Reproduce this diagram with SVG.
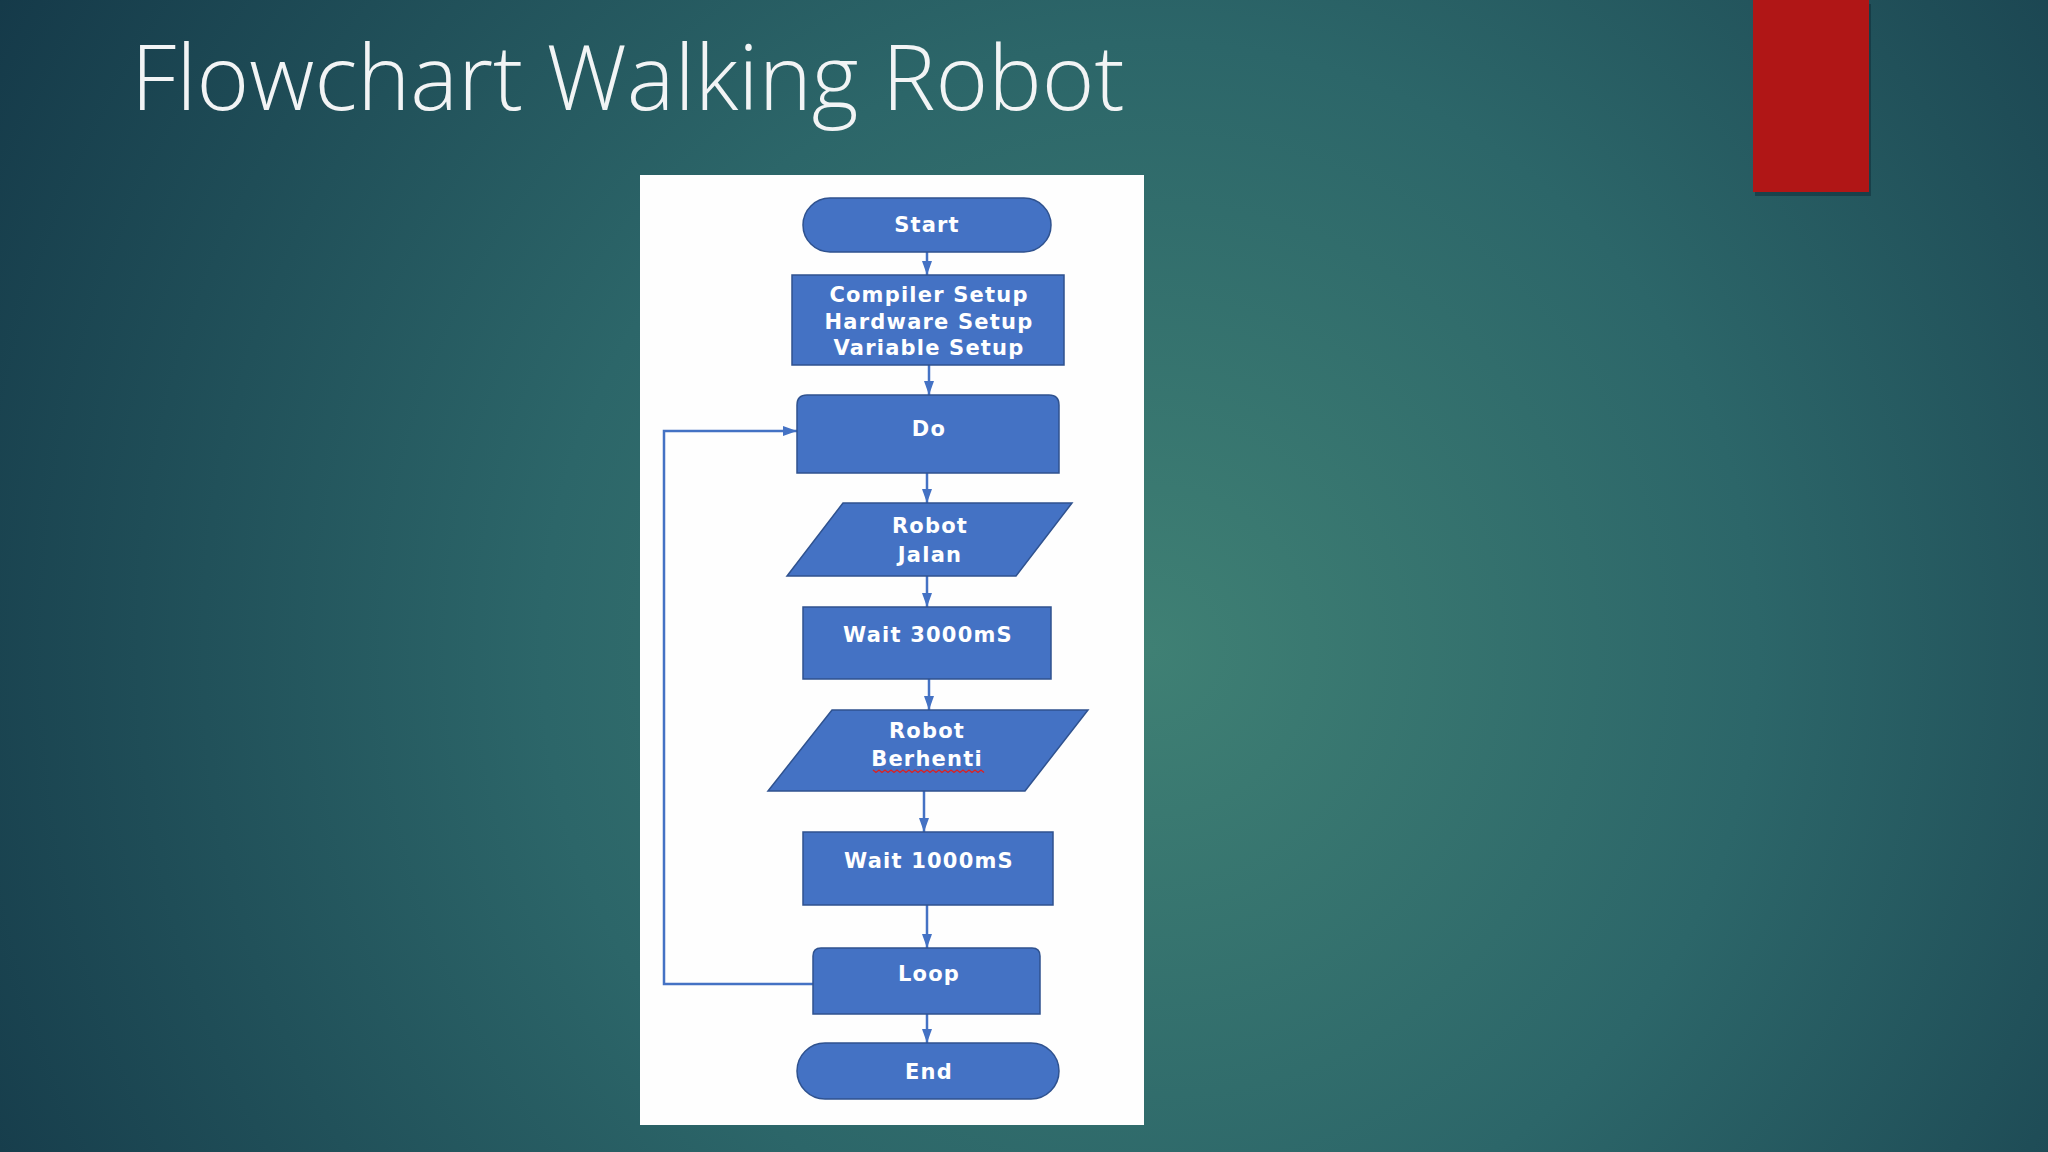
<svg xmlns="http://www.w3.org/2000/svg" width="2048" height="1152" viewBox="0 0 2048 1152">
  <defs>
    <radialGradient id="bg" cx="1150" cy="650" r="1350" gradientUnits="userSpaceOnUse">
      <stop offset="0" stop-color="#3f8074"/>
      <stop offset="0.45" stop-color="#2c6669"/>
      <stop offset="1" stop-color="#143848"/>
    </radialGradient>
    <marker id="arr" viewBox="0 0 14 10" refX="14" refY="5" markerWidth="14" markerHeight="12" markerUnits="userSpaceOnUse" orient="auto">
      <path d="M0,0 L14,5 L0,10 Z" fill="#4472C4"/>
    </marker>
    <style>
      .node { fill: #4472C4; stroke: #2F528F; stroke-width: 1.5; }
      .lbl { font-family: "DejaVu Sans", Verdana, sans-serif; font-weight: bold; font-size: 21px; letter-spacing: 1.2px; fill: #ffffff; text-anchor: middle; }
      .conn { stroke: #4472C4; stroke-width: 2.5; fill: none; }
    </style>
  </defs>

  <rect x="0" y="0" width="2048" height="1152" fill="url(#bg)"/>

  <g id="title">
    <text x="131" y="110" font-family="'Open Sans', 'Noto Sans', sans-serif" font-weight="300" font-size="90" fill="#f2f4f5">Flowchart Walking Robot</text>
  </g>

  <g id="accent">
    <rect x="1755" y="4" width="116" height="192" fill="#0d2a35" opacity="0.5"/>
    <rect x="1753" y="0" width="116" height="192" fill="#b01616"/>
  </g>

  <rect id="panel" x="640" y="175" width="504" height="950" fill="#fefefe"/>

  <g id="connectors">
    <line class="conn" x1="927" y1="252" x2="927" y2="275" marker-end="url(#arr)"/>
    <line class="conn" x1="929" y1="365" x2="929" y2="395" marker-end="url(#arr)"/>
    <line class="conn" x1="927" y1="473" x2="927" y2="503" marker-end="url(#arr)"/>
    <line class="conn" x1="927" y1="576" x2="927" y2="607" marker-end="url(#arr)"/>
    <line class="conn" x1="929" y1="679" x2="929" y2="710" marker-end="url(#arr)"/>
    <line class="conn" x1="924" y1="791" x2="924" y2="832" marker-end="url(#arr)"/>
    <line class="conn" x1="927" y1="905" x2="927" y2="948" marker-end="url(#arr)"/>
    <line class="conn" x1="927" y1="1014" x2="927" y2="1043" marker-end="url(#arr)"/>
    <polyline class="conn" points="813,984 664,984 664,431 797,431" marker-end="url(#arr)"/>
  </g>

  <g id="start">
    <rect class="node" x="803" y="198" width="248" height="54" rx="27" ry="27"/>
    <text class="lbl" x="927" y="232">Start</text>
  </g>

  <g id="setup">
    <rect class="node" x="792" y="275" width="272" height="90"/>
    <text class="lbl" x="929" y="302">Compiler Setup</text>
    <text class="lbl" x="929" y="329">Hardware Setup</text>
    <text class="lbl" x="929" y="355">Variable Setup</text>
  </g>

  <g id="do">
    <path class="node" d="M797,473 L797,405 Q797,395 807,395 L1049,395 Q1059,395 1059,405 L1059,473 Z"/>
    <text class="lbl" x="929" y="436">Do</text>
  </g>

  <g id="robot-jalan">
    <polygon class="node" points="843,503 1072,503 1016,576 787,576"/>
    <text class="lbl" x="930" y="533">Robot</text>
    <text class="lbl" x="930" y="562">Jalan</text>
  </g>

  <g id="wait3000">
    <rect class="node" x="803" y="607" width="248" height="72"/>
    <text class="lbl" x="928" y="642">Wait 3000mS</text>
  </g>

  <g id="robot-berhenti">
    <polygon class="node" points="832,710 1088,710 1025,791 768,791"/>
    <text class="lbl" x="927" y="738">Robot</text>
    <text class="lbl" x="927" y="766">Berhenti</text>
    <path d="M873,770 l3,2.5 l3,-2.5 l3,2.5 l3,-2.5 l3,2.5 l3,-2.5 l3,2.5 l3,-2.5 l3,2.5 l3,-2.5 l3,2.5 l3,-2.5 l3,2.5 l3,-2.5 l3,2.5 l3,-2.5 l3,2.5 l3,-2.5 l3,2.5 l3,-2.5 l3,2.5 l3,-2.5 l3,2.5 l3,-2.5 l3,2.5 l3,-2.5 l3,2.5 l3,-2.5 l3,2.5 l3,-2.5 l3,2.5 l3,-2.5 l3,2.5 l3,-2.5 l3,2.5 l3,-2.5 l3,2.5" fill="none" stroke="#e0201e" stroke-width="1.3"/>
  </g>

  <g id="wait1000">
    <rect class="node" x="803" y="832" width="250" height="73"/>
    <text class="lbl" x="929" y="868">Wait 1000mS</text>
  </g>

  <g id="loop">
    <path class="node" d="M813,1014 L813,956 Q813,948 821,948 L1032,948 Q1040,948 1040,956 L1040,1014 Z"/>
    <text class="lbl" x="929" y="981">Loop</text>
  </g>

  <g id="end">
    <rect class="node" x="797" y="1043" width="262" height="56" rx="28" ry="28"/>
    <text class="lbl" x="929" y="1079">End</text>
  </g>
</svg>
